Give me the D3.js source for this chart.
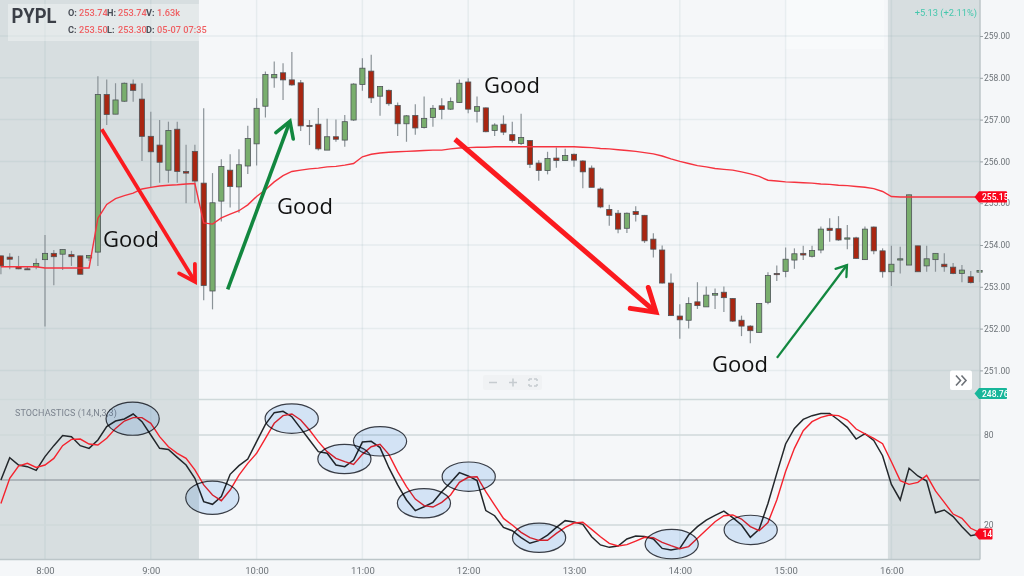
<!DOCTYPE html>
<html>
<head>
<meta charset="utf-8">
<script src="https://cdn.jsdelivr.net/npm/d3@7"></script>
<style>
  html, body { margin: 0; padding: 0; background: #f5f7f9; }
  svg { display: block; font-family: Roboto, sans-serif; }
  .axis path { display: none; }
  .axis text { fill: #6d7378; font-size: 8.5px; font-family: Roboto, sans-serif; }
  .axis.time text { font-size: 9.5px; }
  .axis line { stroke: #9aa2a6; }
</style>
</head>
<body>
<svg id="chart" width="1024" height="576"></svg>
<script>
// 5 minute bars, the first one at 07:35
const START_MIN = 455;
const STEP_MIN = 5;

const opens = [253.74,253.71,253.48,253.43,253.48,253.65,253.80,253.78,253.77,253.74,253.69,253.83,257.60,257.13,257.44,257.85,257.49,256.60,256.39,255.79,256.77,255.76,256.24,255.48,252.90,255.05,255.79,255.39,255.89,256.42,257.32,258.00,258.12,257.95,257.88,256.86,256.89,256.27,256.59,256.51,256.99,257.84,258.16,257.56,257.70,257.34,256.90,257.10,256.81,257.05,257.33,257.25,257.41,257.90,257.20,257.28,256.74,256.89,256.64,256.43,256.50,255.96,255.78,256.08,256.02,256.17,256.01,255.84,255.34,254.85,254.76,254.40,254.80,254.71,254.14,253.88,253.09,252.30,252.20,252.64,252.52,252.80,252.87,252.72,252.20,252.06,251.91,252.63,253.32,253.37,253.64,253.80,253.73,253.88,254.40,254.39,254.14,254.17,253.65,254.43,253.86,253.36,253.64,253.52,253.98,253.50,253.65,253.54,253.47,253.32,253.24,253.35];
const highs = [253.74,253.80,253.74,253.48,253.68,254.24,253.88,253.89,253.86,253.74,253.76,258.04,257.96,257.87,257.89,257.96,257.87,257.19,256.99,256.95,256.95,256.40,256.40,257.27,255.72,256.05,256.17,256.29,256.85,257.51,258.15,258.39,258.35,258.62,257.95,256.99,257.28,257.02,257.00,257.11,257.87,258.47,258.55,257.80,257.72,257.41,257.11,257.37,257.55,257.35,257.51,257.53,257.96,257.99,257.55,257.29,256.91,257.10,256.95,257.14,256.51,256.03,256.23,256.33,256.30,256.19,256.03,255.90,255.38,254.96,254.84,254.78,254.93,254.72,254.28,253.99,253.32,252.58,252.75,253.11,253.01,252.96,253.01,252.73,252.31,252.08,252.61,253.35,253.51,253.94,253.92,253.98,253.98,254.44,254.64,254.69,254.48,254.20,254.44,254.44,253.92,253.98,253.96,255.21,253.98,253.98,253.80,253.80,253.57,253.52,253.38,253.40];
const lows = [253.30,253.42,253.42,253.41,253.42,252.05,253.04,253.40,253.50,253.30,253.62,253.50,256.87,257.13,257.42,257.43,256.01,255.38,255.49,255.49,255.49,255.00,255.00,252.68,252.46,254.56,254.90,254.77,255.70,255.90,257.05,257.76,257.47,257.81,256.73,256.39,256.26,256.27,256.47,256.35,256.97,257.69,257.40,257.09,257.33,256.61,256.47,256.64,256.79,256.83,257.01,257.23,257.40,257.15,256.93,256.70,256.61,256.63,256.45,256.39,255.84,255.54,255.69,255.85,256.02,255.87,255.36,255.38,254.88,254.46,254.28,254.29,254.56,254.05,253.70,253.08,252.31,251.76,252.00,252.47,252.52,252.47,252.40,252.16,251.82,251.65,251.90,252.58,253.14,253.23,253.43,253.64,253.70,253.80,254.08,254.10,253.90,253.67,253.64,253.78,253.22,253.02,253.32,253.52,253.36,253.36,253.36,253.36,253.30,253.11,253.08,253.11];
const closes = [253.50,253.66,253.43,253.42,253.56,253.80,253.72,253.89,253.72,253.30,253.75,257.60,257.12,257.47,257.87,257.70,256.60,256.23,255.98,256.74,255.76,255.72,255.53,253.03,255.01,255.88,255.40,255.92,256.55,257.27,258.08,258.08,257.95,257.83,256.85,256.84,256.30,256.59,256.53,256.95,257.85,258.23,257.52,257.79,257.38,256.90,257.09,256.80,257.03,257.27,257.24,257.43,257.87,257.25,257.31,256.71,256.87,256.70,256.50,256.57,255.93,255.78,256.07,256.02,256.14,256.03,255.75,255.38,254.91,254.71,254.38,254.76,254.73,254.10,253.90,253.09,252.31,252.21,252.60,252.55,252.80,252.84,252.74,252.18,252.06,251.95,252.60,253.27,253.29,253.66,253.79,253.76,253.87,254.38,254.35,254.12,254.17,253.68,254.38,253.86,253.36,253.54,253.67,255.20,253.36,253.67,253.80,253.48,253.32,253.40,253.10,253.39];

// red moving average drawn over the candles
const maLine = [253.48,253.48,253.48,253.48,253.48,253.45,253.45,253.45,253.45,253.45,253.45,254.64,254.97,255.11,255.18,255.24,255.34,255.38,255.41,255.43,255.44,255.46,255.47,254.53,254.50,254.65,254.74,254.82,254.96,255.16,255.32,255.51,255.66,255.76,255.79,255.82,255.84,255.87,255.88,255.91,255.95,256.11,256.17,256.20,256.22,256.23,256.24,256.25,256.26,256.27,256.27,256.30,256.32,256.33,256.34,256.34,256.35,256.35,256.35,256.35,256.35,256.35,256.35,256.35,256.35,256.35,256.34,256.33,256.31,256.30,256.28,256.26,256.24,256.21,256.18,256.13,256.06,256.00,255.95,255.90,255.87,255.83,255.81,255.79,255.75,255.70,255.64,255.55,255.53,255.51,255.50,255.49,255.48,255.46,255.45,255.43,255.42,255.40,255.38,255.35,255.28,255.16,255.15,255.15,255.15,255.15,255.15,255.15,255.15,255.15,255.15,255.15];

// stochastics pane
const stochK = [50.0,64.9,60.0,58.9,56.4,65.6,72.9,79.6,78.9,72.9,71.1,76.7,85.6,89.3,90.7,94.0,88.9,80.0,71.1,70.4,65.1,60.0,51.1,35.6,33.8,38.9,53.8,59.6,64.0,75.6,87.1,94.9,95.8,92.2,84.4,76.7,68.9,67.8,60.0,58.9,63.3,75.3,75.8,71.6,58.2,46.7,36.7,29.6,32.2,35.1,42.2,48.4,54.9,52.7,49.6,29.6,26.2,18.4,16.2,11.6,7.8,9.6,13.3,18.4,22.9,22.0,20.4,12.2,6.7,5.1,6.0,10.7,12.7,12.4,10.7,4.4,3.3,4.4,13.3,18.9,23.3,26.4,29.3,24.9,20.0,11.8,17.1,34.4,54.4,74.0,84.4,90.4,92.9,94.4,94.4,90.0,85.1,77.3,80.9,76.4,66.2,47.1,36.7,57.8,52.7,49.3,28.2,30.0,25.6,18.9,12.9,14.0];
const stochD = [34.4,51.1,59.3,61.1,58.4,60.0,64.4,72.9,77.1,77.3,74.0,73.3,77.8,84.4,89.3,91.6,91.6,87.8,78.9,72.2,67.8,64.4,56.7,46.7,40.0,36.2,43.3,53.3,61.1,67.8,77.8,87.8,92.9,94.0,90.0,83.3,75.6,68.9,64.4,62.2,60.4,67.1,72.2,73.8,67.1,55.6,45.6,37.3,32.9,32.0,35.1,40.0,48.4,51.8,52.2,42.2,33.3,24.4,20.0,15.1,11.6,9.8,9.8,14.4,18.4,21.3,21.8,17.1,12.2,7.8,6.0,6.9,9.3,11.8,11.6,8.4,6.2,4.2,5.6,11.1,16.7,22.2,26.2,26.7,24.0,18.9,16.2,21.6,36.7,55.6,71.1,82.9,88.9,91.8,93.3,92.9,90.0,84.0,80.7,77.8,74.2,62.2,49.6,47.1,48.4,53.1,42.7,35.1,27.3,24.4,17.8,15.1];

const priceTicks = [251,252,253,254,255,256,257,258,259];
const hourTicks = [480,540,600,660,720,780,840,900,960];
const stochGrid = [80,50,20];
const stochLabels = [80,20];

// marked turning points in the pane: [minute, stochastic value]
const circleMarks = [[529.7,90.9],[574.9,38.2],[619.9,90.9],[670,75.8],[649.8,64],[694.9,34.5],[720.3,52.2],[760.2,11.5],[835.4,7.3],[880.2,16.7]];

// hand drawn arrows: [startMinute, startPrice, tipMinute, tipPrice]
const arrowRed1 = [512.2,256.77,565.1,253.12];
const arrowGreen1 = [583.6,252.94,618.9,256.96];
const arrowRed2 = [712.5,256.53,826.5,252.39];
const arrowGreen2 = [895.1,251.30,934.8,253.52];

// "Good" labels: [minute, baseline price]
const goodLabels = [[512.9,253.95],[611.6,254.74],[729,257.63],[858.3,250.96]];

const headerRows = [
  [["O:","253.74"],["H:","253.74"],["V:","1.63k"]],
  [["C:","253.50"],["L:","253.30"],["D:","05-07 07:35"]],
];

const W = 1024, H = 576;
const PLOT_R = 980;
const PANE_TOP = 399.5, PANE_BOTTOM = 559.5;

const x = d3.scaleLinear().domain([480, 960]).range([45, 891.4]);
const y = d3.scaleLinear().domain([251, 259]).range([370.4, 36]);
const yS = d3.scaleLinear().domain([20, 80]).range([525, 435]);
const barX = i => x(START_MIN + i * STEP_MIN);

const svg = d3.select("#chart");

// ── 背景 ──
svg.append("rect").attr("width", W).attr("height", H).attr("fill", "#f5f7f9");
svg.append("rect").attr("x", 785).attr("y", 0).attr("width", 99).attr("height", 49).attr("fill", "#f8fafb");
const shade = svg.append("g");
[[0, x(567.3)], [x(960) - 3.5, PLOT_R]].forEach(([a, b]) => {
  shade.append("rect").attr("x", a).attr("y", 0).attr("width", b - a).attr("height", PANE_BOTTOM).attr("fill", "#d7dee0");
});

// ── 格線 ──
const grid = svg.append("g");
priceTicks.forEach(p => {
  grid.append("line").attr("x1", 0).attr("x2", PLOT_R).attr("y1", y(p)).attr("y2", y(p))
    .attr("stroke", "#7f9aa5").attr("stroke-opacity", 0.12).attr("stroke-width", 1.5);
});
hourTicks.forEach(m => {
  grid.append("line").attr("x1", x(m)).attr("x2", x(m)).attr("y1", 0).attr("y2", PANE_BOTTOM)
    .attr("stroke", "#7f9aa5").attr("stroke-opacity", 0.12).attr("stroke-width", 1.5);
});

// ── K 線 ──
const candles = svg.append("g");
opens.forEach((o, i) => {
  const c = closes[i];
  const up = c >= o;
  const px = barX(i);
  const g = candles.append("g");
  g.append("line").attr("x1", px).attr("x2", px).attr("y1", y(highs[i])).attr("y2", y(lows[i]))
    .attr("stroke", "#8b9398").attr("stroke-width", 1.2);
  g.append("rect").attr("x", px - 2.6).attr("width", 5.2)
    .attr("y", y(Math.max(o, c))).attr("height", Math.max(1, Math.abs(y(o) - y(c))))
    .attr("fill", up ? "#79ae6d" : "#a92611")
    .attr("stroke", "#4e5458").attr("stroke-width", 0.8);
});

const lineGen = (sc, data) => d3.line().x((d, i) => barX(i)).y(d => sc(d))(data);

svg.append("path").attr("d", lineGen(y, maLine)).attr("fill", "none")
  .attr("stroke", "#f5333f").attr("stroke-width", 1.4);

// ── 副圖 ──
const pane = svg.append("g");
[PANE_TOP, ...stochGrid.map(yS)].forEach((py, i) => {
  const mid = i === 2;
  pane.append("line").attr("x1", 0).attr("x2", PLOT_R).attr("y1", py).attr("y2", py)
    .attr("stroke", mid ? "#858c94" : "#cfd9da").attr("stroke-width", mid ? 1.2 : 1.5);
});
pane.append("line").attr("x1", 0).attr("x2", PLOT_R).attr("y1", PANE_BOTTOM).attr("y2", PANE_BOTTOM)
  .attr("stroke", "#bcc6c9").attr("stroke-width", 1.5);
pane.append("line").attr("x1", PLOT_R).attr("x2", PLOT_R).attr("y1", 0).attr("y2", PANE_BOTTOM)
  .attr("stroke", "#bcc6c9").attr("stroke-width", 1.5);

pane.append("path").attr("d", lineGen(yS, stochK)).attr("fill", "none")
  .attr("stroke", "#23272b").attr("stroke-width", 1.5);
pane.append("path").attr("d", lineGen(yS, stochD)).attr("fill", "none")
  .attr("stroke", "#f5222d").attr("stroke-width", 1.4);

svg.append("text").attr("x", 15).attr("y", 415.5).attr("font-size", 9).attr("letter-spacing", 0.1)
  .attr("fill", "#7b838e").text("STOCHASTICS (14,N,3,3)");

// 前兩個圈畫得比較高，multiply 讓線條保持原色
circleMarks.forEach(([m, v], i) => {
  svg.append("ellipse").attr("cx", x(m)).attr("cy", yS(v)).attr("rx", 26.6).attr("ry", i < 2 ? 16.6 : 14.7)
    .attr("fill", "#dcebfb").style("mix-blend-mode", "multiply")
    .attr("stroke", "#3b3f48").attr("stroke-width", 1.2);
});

// ── 座標軸 ──
const axisRight = d3.axisRight(y).tickValues(priceTicks).tickSize(3).tickPadding(1).tickFormat(d3.format(".2f"));
svg.append("g").attr("class", "axis").attr("transform", `translate(${PLOT_R},0)`).call(axisRight);
const axisStoch = d3.axisRight(yS).tickValues(stochLabels).tickSize(0).tickPadding(4);
svg.append("g").attr("class", "axis").attr("transform", `translate(${PLOT_R},0)`).call(axisStoch);
const axisBottom = d3.axisBottom(x).tickValues(hourTicks).tickSize(0).tickPadding(7.5).tickFormat(m => `${m / 60}:00`);
svg.append("g").attr("class", "axis time").attr("transform", `translate(0,${PANE_BOTTOM})`).call(axisBottom);

// ── 價格標籤 ──
function priceTag(tagY, x1, color, label, textX) {
  const h = 5.6;
  svg.append("path")
    .attr("d", `M974.5,${tagY} L979,${tagY - h} H${x1 - 1} Q${x1},${tagY - h} ${x1},${tagY - h + 1} V${tagY + h - 1} Q${x1},${tagY + h} ${x1 - 1},${tagY + h} H979 Z`)
    .attr("fill", color);
  svg.append("text").attr("x", textX).attr("y", tagY + 3).attr("font-size", 8.5).attr("font-weight", 500)
    .attr("fill", "#fff").text(label);
}
priceTag(y(maLine[maLine.length - 1]), 1007, "#f9061d", "255.15", 982);
priceTag(393.5, 1007, "#17b69a", "248.76", 982);
priceTag(yS(14), 992.5, "#f9061d", "14", 982.5);

// ── 箭頭 ──
function drawArrow(a, color, width, head, spread) {
  const [sx, sy, tx, ty] = [x(a[0]), y(a[1]), x(a[2]), y(a[3])];
  const ang = Math.atan2(sy - ty, sx - tx);
  const arm = s => [tx + head * Math.cos(ang + s * spread), ty + head * Math.sin(ang + s * spread)];
  const g = svg.append("g").attr("fill", "none").attr("stroke", color).attr("stroke-width", width);
  g.append("path").attr("d", d3.line()([[sx, sy], [tx, ty]]));
  g.append("path").attr("d", d3.line()([arm(1), [tx, ty], arm(-1)])).attr("stroke-linecap", "round").attr("stroke-linejoin", "miter");
}
drawArrow(arrowRed1, "#fb1a1f", 3.8, 18, 0.54);
drawArrow(arrowGreen1, "#12873f", 3.6, 18, 0.54);
drawArrow(arrowRed2, "#fb1a1f", 5, 26, 0.56);
drawArrow(arrowGreen2, "#12873f", 2.3, 12, 0.6);

goodLabels.forEach(([m, p]) => {
  svg.append("text").attr("x", x(m)).attr("y", y(p))
    .attr("font-family", "'Open Sans', sans-serif").attr("font-size", 22).attr("fill", "#111").text("Good");
});

// ── 左上資訊框 ──
svg.append("rect").attr("x", 8).attr("y", 4).attr("width", 191).attr("height", 37)
  .attr("fill", "#fff").attr("fill-opacity", 0.33);
svg.append("text").attr("x", 11.5).attr("y", 22.7).attr("font-size", 21).attr("font-weight", 700)
  .attr("textLength", 45).attr("lengthAdjust", "spacingAndGlyphs")
  .attr("fill", "#3b3f47").text("PYPL");
headerRows.forEach((row, r) => {
  const rowY = 16 + r * 16.6;
  row.forEach(([k, v], c) => {
    const cx = 68 + c * 39;
    svg.append("text").attr("x", cx).attr("y", rowY).attr("font-size", 9.2).attr("font-weight", 700)
      .attr("fill", "#4b4f58").text(k);
    svg.append("text").attr("x", cx + 11).attr("y", rowY).attr("font-size", 9.2).attr("font-weight", 500)
      .attr("fill", "#ef5f62").text(v);
  });
});

svg.append("text").attr("x", 977).attr("y", 15.5).attr("text-anchor", "end").attr("font-size", 9.3)
  .attr("fill", "#45c7ad").text("+5.13 (+2.11%)");

// ── 縮放控制 ──
const zoomG = svg.append("g");
zoomG.append("rect").attr("x", 483).attr("y", 375).attr("width", 59).attr("height", 15).attr("rx", 2).attr("fill", "#f0f2f4");
zoomG.append("path").attr("d", "M489,382.5H497 M509,382.5H517 M513,378.5V386.5 M529,379H532 M529,379V381 M537,379H534 M537,379V381 M529,386H532 M529,386V384 M537,386H534 M537,386V384")
  .attr("fill", "none").attr("stroke", "#c6ccd0").attr("stroke-width", 1.6);

// ── 展開按鈕 ──
svg.append("rect").attr("x", 950).attr("y", 370.5).attr("width", 22).attr("height", 19.5).attr("rx", 2).attr("fill", "#fff");
svg.append("path").attr("d", "M956,375.5L960.5,380.5L956,385.5 M961.5,375.5L966,380.5L961.5,385.5")
  .attr("fill", "none").attr("stroke", "#6b7076").attr("stroke-width", 1.6);
</script>
</body>
</html>
